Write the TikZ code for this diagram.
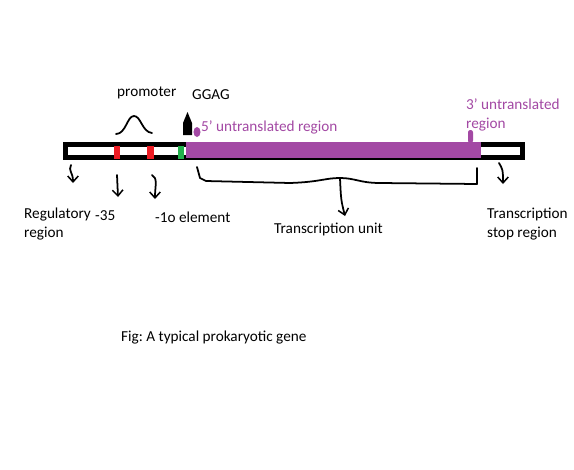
\documentclass[tikz,border=0pt]{standalone}
\usepackage{fontspec}
\setmainfont{Carlito}
\frenchspacing
\usetikzlibrary{
  arrows.meta,
  positioning
}
\definecolor{paintpurple}{HTML}{A349A4}
\definecolor{paintred}{HTML}{ED1C24}
\definecolor{paintgreen}{HTML}{22B14C}
\tikzset{
  % For the gene strand.
  strand/.style={
    draw=black,
    fill=white,
    line width=4.3pt},
%
  % For the coloured boxes and marks on the strand.
  coding/.style={
    fill=paintpurple},
  minus box/.style={
    fill=paintred},
  start box/.style={
    fill=paintgreen},
%
  % For hand drawn pointers.
  pointer/.style={
    line width=1.5pt,
    line cap=round,
    line join=round,
    -{Straight Barb[length=5pt,width=9pt,line width=1.3pt]}},
  brace line/.style={
    line width=1.5pt,
    line cap=round,
    line join=round},
%
  % For explanations.
  label/.style={
    font=\fontsize{13}{15.5}\selectfont,
    inner sep=0pt,
    anchor=west,
    align=left},
  purple label/.style={
    label,
    text=paintpurple},
}

\begin{document}
\begin{tikzpicture}[x=0.03cm,y=-0.03cm]
  \useasboundingbox[fill=white] (0,0) rectangle (574,470);

  % Strand and its regions.
  \draw[strand] (65.5,144.5) rectangle (522.5,157.5);
  \fill[coding] (186,142) rectangle (481,158);
  \fill[coding, rounded corners=2pt] (468,130) rectangle (473,143);
  \fill[minus box] (114,146) rectangle (120,159);
  \fill[minus box] (147,146) rectangle (154,159);
  \fill[start box] (178,146) rectangle (184,159);

  % GGAG marker and 5' dot.
  \fill (183,135) -- (183,123) -- (187.5,112) -- (192,123) -- (192,135) -- cycle;
  \fill[paintpurple] (197,132) ellipse [x radius=3.5, y radius=5];

  % Labels.
  \node[label] (promoter) at (117,93) {promoter};
  \node[label] (ggag) at (192,95) {GGAG};
  \node[purple label] (utr5) at (201,127) {5' untranslated region};
  \node[purple label] (utr3) at (466,115) {3' untranslated\\region};
  \node[label] (regulatory) at (24,224) {Regulatory\\region};
  \node[label] (m35) at (95,216) {-35};
  \node[label] (m10) at (155,217) {-1o element};
  \node[label] (unit) at (274,229) {Transcription unit};
  \node[label] (stop) at (487,224) {Transcription\\stop region};
  \node[label] (caption) at (121,338) {Fig: A typical prokaryotic gene};

  % Pointer ends.
  \coordinate (reg top) at (71,165);
  \coordinate (reg tip) at (73,183);
  \coordinate (m35 top) at (117,175);
  \coordinate (m35 tip) at (118,197);
  \coordinate (m10 top) at (152,175);
  \coordinate (m10 tip) at (155,199);
  \coordinate (stop top) at (499,163);
  \coordinate (stop tip) at (503,184);
  \coordinate (brace left) at (197,167);
  \coordinate (brace mid) at (340,178);
  \coordinate (brace right) at (477,168);
  \coordinate (unit tip) at (345,216);

  % Promoter hump.
  \draw[brace line] (116,134) .. controls (126,134) and (127,116) .. (134,116)
                           .. controls (141,116) and (142,132) .. (152,133);

  \draw[pointer] (reg top) .. controls (68,171) and (73,172) .. (reg tip);
  \draw[pointer] (m35 top) -- (m35 tip);
  \draw[pointer] (m10 top) .. controls (158,178) and (155,186) .. (m10 tip);
  \draw[pointer] (stop top) .. controls (503,170) .. (stop tip);

  % Transcription unit brace.
  \draw[brace line] (brace left) -- (200,178) -- (206,181) -- (290,183)
                    .. controls (320,182) and (325,178) .. (brace mid)
                    .. controls (355,178) and (360,183) .. (380,183)
                    -- (477,184) -- (brace right);
  \draw[pointer] (brace mid) .. controls (341,200) .. (unit tip);
\end{tikzpicture}
\end{document}
